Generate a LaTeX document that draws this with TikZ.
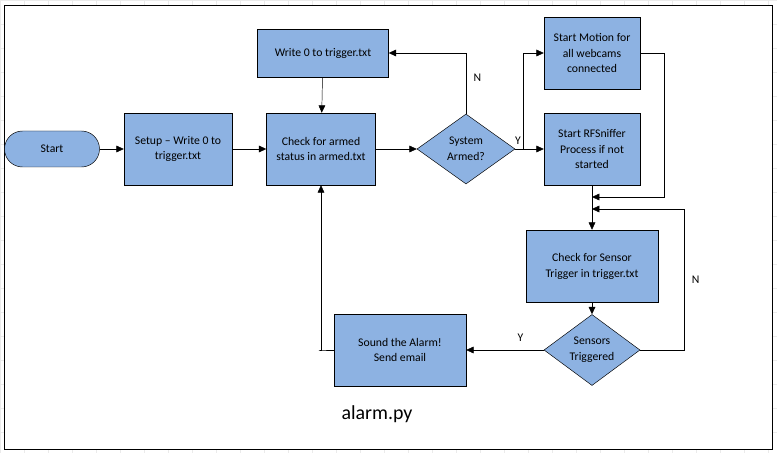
\documentclass[tikz,border=0pt]{standalone}
\usepackage{fontspec}
\setmainfont{Carlito}
\usetikzlibrary{shapes.geometric,arrows.meta}
\definecolor{boxblue}{RGB}{141,178,226}
\tikzset{
	box/.style = {draw, fill=boxblue, align=center, inner sep=1pt, font=\fontsize{10}{13.6}\selectfont},
	decision/.style = {box, diamond, aspect=1.4},
	flow/.style = {-{Triangle[length=2.2mm,width=2mm]}},
}
\begin{document}
\begin{tikzpicture}[x=0.03cm, y=-0.03cm]
	\useasboundingbox (0,0) rectangle (777,453);
	\draw[black!8, step=0.72cm] (0,453) grid (777,0);
	\draw[fill=white] (4,5) rectangle (772,449);

	\node[box, rounded corners=0.54cm, minimum width=2.85cm, minimum height=1.08cm](start) at (52,149) {Start};
	\node[box, minimum width=3.24cm, minimum height=2.16cm](setup) at (178,149) {Setup -- Write 0 to\\trigger.txt};
	\node[box, minimum width=3.93cm, minimum height=1.44cm](reset) at (323,53) {Write 0 to trigger.txt};
	\node[box, minimum width=3.27cm, minimum height=2.16cm](armed) at (321,149) {Check for armed\\status in armed.txt};
	\node[decision, minimum width=2.94cm, minimum height=2.1cm](sysarmed) at (466,149) {System\\Armed?};
	\node[box, minimum width=2.88cm, minimum height=2.16cm](motion) at (592,53) {Start Motion for\\all webcams\\connected};
	\node[box, minimum width=2.88cm, minimum height=2.16cm](sniffer) at (592,149) {Start RFSniffer\\Process if not\\started};
	\node[box, minimum width=3.96cm, minimum height=2.16cm](sensor) at (592,266) {Check for Sensor\\Trigger in trigger.txt};
	\node[decision, minimum width=2.88cm, minimum height=2.13cm](triggered) at (592,350) {Sensors\\Triggered};
	\node[box, minimum width=3.96cm, minimum height=2.16cm](alarm) at (400,350) {Sound the Alarm!\\Send email};
	\node[font=\fontsize{17}{20}\selectfont](title) at (377,414) {alarm.py};

	\coordinate (join1) at (592,197);
	\coordinate (join2) at (592,209);

	\draw[flow] (start) -- (setup);
	\draw[flow] (setup) -- (armed);
	\draw[flow] (armed) -- (sysarmed);
	\draw[flow] (sysarmed.north) |- node[pos=0.3, right=3pt]{N} (reset.east);
	\draw[flow] (reset) -- (armed);
	\draw[flow] (sysarmed.east) -- ++(8,0) |- (motion.west);
	\draw[flow] (sysarmed.east) -- node[above, pos=0.1]{Y} (sniffer.west);
	\draw[flow] (motion.east) -- ++(24,0) |- (join1);
	\draw[flow] (sniffer) -- (sensor);
	\draw[flow] (triggered.east) -- ++(44,0) |- node[pos=0.25, right=3pt]{N} (join2);
	\draw[flow] (sensor) -- (triggered);
	\draw[flow] (triggered) -- node[above=4pt, pos=0.3]{Y} (alarm);
	\draw[flow] (alarm.west) -- ++(-15,0) -| (armed.south);
\end{tikzpicture}
\end{document}
